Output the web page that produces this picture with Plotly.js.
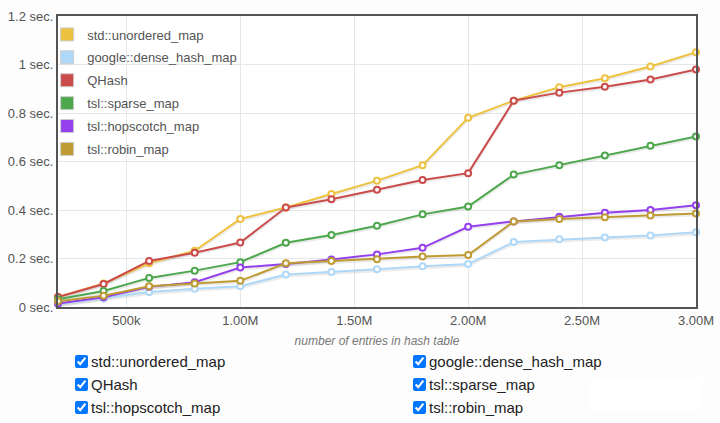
<!DOCTYPE html>
<html>
<head>
<meta charset="utf-8">
<script src="https://cdn.plot.ly/plotly-3.0.1.min.js"></script>
<style>
  html, body { margin: 0; padding: 0; background: #fdfdfd; width: 720px; height: 423px; overflow: hidden; }
  #chart { position: absolute; left: 0; top: 0; width: 720px; height: 350px; }
  .cb { position: absolute; font-family: "Liberation Sans", Arial, sans-serif; font-size: 15px; color: #222; display: flex; align-items: center; }
  .cb input { margin: 0 3px 0 0; width: 13px; height: 13px; }
  #whitebox { position: absolute; left: 590px; top: 378px; width: 112px; height: 32px; background: #fff; }
</style>
</head>
<body>
<div id="chart"></div>
<div id="whitebox"></div>
<div id="checks"></div>
<script>
const entries = [200000, 400000, 600000, 800000, 1000000, 1200000, 1400000, 1600000, 1800000, 2000000, 2200000, 2400000, 2600000, 2800000, 3000000];
const seriesNames = ["std::unordered_map", "google::dense_hash_map", "QHash", "tsl::sparse_map", "tsl::hopscotch_map", "tsl::robin_map"];
const stdUnorderedMap = [0.041, 0.097, 0.180, 0.232, 0.363, 0.410, 0.466, 0.521, 0.585, 0.780, 0.851, 0.906, 0.943, 0.992, 1.051];
const googleDenseHashMap = [0.011, 0.035, 0.062, 0.075, 0.086, 0.134, 0.144, 0.156, 0.168, 0.177, 0.268, 0.279, 0.287, 0.295, 0.308];
const qHash = [0.041, 0.095, 0.190, 0.224, 0.266, 0.410, 0.444, 0.483, 0.524, 0.552, 0.851, 0.884, 0.908, 0.938, 0.979];
const tslSparseMap = [0.032, 0.066, 0.120, 0.150, 0.185, 0.265, 0.297, 0.335, 0.382, 0.414, 0.546, 0.585, 0.625, 0.665, 0.703];
const tslHopscotchMap = [0.014, 0.040, 0.083, 0.102, 0.163, 0.177, 0.196, 0.217, 0.244, 0.331, 0.353, 0.372, 0.389, 0.400, 0.420];
const tslRobinMap = [0.024, 0.046, 0.086, 0.097, 0.108, 0.180, 0.190, 0.197, 0.208, 0.214, 0.353, 0.363, 0.370, 0.377, 0.386];
const yTickVals = [0, 0.2, 0.4, 0.6, 0.8, 1, 1.2];
const yTickText = ["0 sec.", "0.2 sec.", "0.4 sec.", "0.6 sec.", "0.8 sec.", "1 sec.", "1.2 sec."];
const xTickVals = [500000, 1000000, 1500000, 2000000, 2500000, 3000000];
const xTickText = ["500k", "1.00M", "1.50M", "2.00M", "2.50M", "3.00M"];

const allValues = [stdUnorderedMap, googleDenseHashMap, qHash, tslSparseMap, tslHopscotchMap, tslRobinMap];
const colors = ["#edc240", "#afd8f8", "#cb4b4b", "#4da74d", "#9440ed", "#be9b33"];

const FONT = "Liberation Sans, Arial, sans-serif";
const traces = [];
// faint shadows
allValues.forEach((vals, i) => {
  traces.push({
    x: entries, y: vals.map(v => v - 0.006), type: "scatter", mode: "lines",
    line: { color: "rgba(0,0,0,0.08)", width: 3 }, hoverinfo: "skip", showlegend: false
  });
});
allValues.forEach((vals, i) => {
  traces.push({
    x: entries, y: vals, type: "scatter", mode: "lines+markers", name: seriesNames[i],
    line: { color: colors[i], width: 2 },
    marker: { symbol: "circle", size: 6, color: "#ffffff", line: { color: colors[i], width: 2 } },
    cliponaxis: false, showlegend: false
  });
});
// legend entries (flot-style boxes)
allValues.forEach((vals, i) => {
  traces.push({
    x: [null], y: [null], type: "scatter", mode: "markers", name: seriesNames[i],
    legendgroup: "g" + i,
    marker: { symbol: "square", size: 13, color: colors[i], line: { color: "#cccccc", width: 1 } },
    showlegend: true
  });
});

const layout = {
  width: 720, height: 350,
  margin: { l: 58, r: 24, t: 16, b: 43 },
  paper_bgcolor: "#fdfdfd", plot_bgcolor: "#ffffff",
  font: { family: FONT, size: 13, color: "#545454" },
  xaxis: {
    range: [200000, 3000000], tickvals: xTickVals, ticktext: xTickText,
    showgrid: true, gridcolor: "#e6e6e6", gridwidth: 1, zeroline: false,
    showline: true, mirror: true, linecolor: "#545454", linewidth: 2,
    ticks: "", tickfont: { family: FONT, size: 13, color: "#545454" },
    title: { text: "number of entries in hash table", font: { family: FONT, size: 12, color: "#777777", style: "italic" }, standoff: 10 }
  },
  yaxis: {
    range: [0, 1.2], tickvals: yTickVals, ticktext: yTickText,
    showgrid: true, gridcolor: "#e6e6e6", gridwidth: 1, zeroline: false,
    showline: true, mirror: true, linecolor: "#545454", linewidth: 2,
    ticks: "", tickfont: { family: FONT, size: 13, color: "#545454" }
  },
  showlegend: true,
  legend: {
    x: -0.017, y: 0.988, xanchor: "left", yanchor: "top",
    bgcolor: "rgba(0,0,0,0)", borderwidth: 0,
    font: { family: FONT, size: 13, color: "#545454" },
    tracegroupgap: 3, traceorder: "grouped"
  },
  hovermode: false
};

Plotly.newPlot("chart", traces, layout, { displayModeBar: false, staticPlot: true });

// checkbox legend below the chart
const checks = document.getElementById("checks");
const positions = [[75, 353], [413, 353], [75, 376], [413, 376], [75, 399], [413, 399]];
seriesNames.forEach((name, i) => {
  const d = document.createElement("label");
  d.className = "cb";
  d.style.left = positions[i][0] + "px";
  d.style.top = positions[i][1] + "px";
  const inp = document.createElement("input");
  inp.type = "checkbox"; inp.checked = true;
  d.appendChild(inp);
  d.appendChild(document.createTextNode(name));
  checks.appendChild(d);
});
</script>
</body>
</html>
